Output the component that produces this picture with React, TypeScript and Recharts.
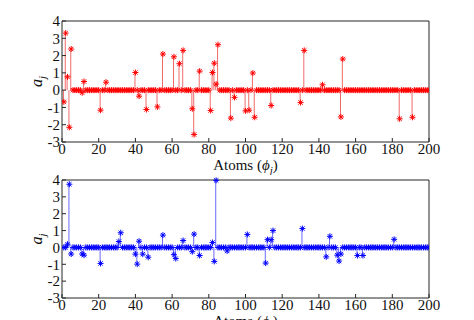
import React from "react";
import { ComposedChart, Bar, Scatter, XAxis, YAxis } from "recharts";

// Atom indices (categories) 1..200
const atomIndex: number[] = Array.from({ length: 200 }, (_, i) => i + 1);

// Nonzero coefficients (all other atoms are 0)
const redAtoms = [1, 2, 3, 4, 5, 11, 12, 21, 24, 40, 42, 46, 52, 55, 61, 64, 66, 71, 72, 75, 81, 82, 83, 84, 85, 92, 94, 100, 102, 104, 105, 114, 130, 132, 142, 152, 153, 184, 191];
const redValues = [-0.68, 3.3, 0.77, -2.15, 2.38, -0.15, 0.5, -1.16, 0.46, 1.02, -0.35, -1.12, -0.97, 2.09, 1.93, 1.53, 2.3, -1.08, -2.57, 1.1, -1.18, 1.02, 1.56, 0.35, 2.63, -1.62, -0.42, -1.2, -1.16, 0.99, -1.57, -0.89, -0.72, 2.3, 0.31, -1.55, 1.8, -1.66, -1.57];

const blueAtoms = [3, 4, 5, 11, 12, 21, 31, 32, 40, 41, 42, 44, 47, 55, 61, 62, 66, 71, 72, 75, 82, 83, 84, 90, 101, 111, 112, 114, 115, 131, 144, 146, 150, 151, 152, 161, 164, 181];
const blueValues = [0.19, 3.75, -0.39, -0.39, -0.46, -0.95, 0.35, 0.87, -0.4, -0.99, 0.37, -0.4, -0.58, 0.73, -0.43, -0.66, 0.41, -0.25, 0.79, -0.48, 0.29, -0.83, 3.98, -0.21, 0.77, -0.93, 0.46, 0.46, 1.0, 1.12, -0.56, 0.66, -0.46, -0.81, -0.39, -0.48, -0.48, 0.48];

const xTicks = [0, 20, 40, 60, 80, 100, 120, 140, 160, 180, 200];
const yTicks = [-3, -2, -1, 0, 1, 2, 3, 4];

function buildTable(atoms: number[], values: number[]) {
  return atomIndex.map((a) => {
    const k = atoms.indexOf(a);
    return { x: a, y: k >= 0 ? values[k] : 0 };
  });
}

const redData = buildTable(redAtoms, redValues);
const blueData = buildTable(blueAtoms, blueValues);

const FONT = "'Liberation Serif', 'DejaVu Serif', serif";
const AXIS = "#262626";

const makeAsterisk = (color: string) => (props: any) => {
  const { cx, cy } = props;
  if (cx == null || cy == null) return <g />;
  const r = 3;
  const d = r * 0.72;
  return (
    <g stroke={color} strokeWidth={1}>
      <line x1={cx - r} y1={cy} x2={cx + r} y2={cy} />
      <line x1={cx} y1={cy - r} x2={cx} y2={cy + r} />
      <line x1={cx - d} y1={cy - d} x2={cx + d} y2={cy + d} />
      <line x1={cx - d} y1={cy + d} x2={cx + d} y2={cy - d} />
    </g>
  );
};

const XLabel = (props: any) => {
  const vb = props.viewBox || {};
  const cx = vb.x + vb.width / 2;
  return (
    <text x={cx} y={vb.y + 28} textAnchor="middle" fontFamily={FONT} fontSize={15} fill="#111">
      Atoms (<tspan fontStyle="italic">ϕ</tspan>
      <tspan fontStyle="italic" fontSize={11} dy={4}>j</tspan>
      <tspan dy={-4}>)</tspan>
    </text>
  );
};

const YLabel = (props: any) => {
  const vb = props.viewBox || {};
  const x = 42;
  const y = vb.y + vb.height / 2;
  return (
    <text x={x} y={y} transform={`rotate(-90, ${x}, ${y})`} textAnchor="middle" fontFamily={FONT} fontSize={16} fill="#111">
      <tspan fontStyle="italic">a</tspan>
      <tspan fontStyle="italic" fontSize={11} dy={4}>j</tspan>
    </text>
  );
};

function StemPlot(props: { data: any[]; stem: string; marker: string; marginTop: number; xAxisHeight: number; height: number }) {
  const { data, stem, marker, marginTop, xAxisHeight, height } = props;
  return (
    <ComposedChart
      width={474}
      height={height}
      data={data}
      margin={{ top: marginTop, right: 44, bottom: 0, left: 0 }}
    >
      <XAxis
        xAxisId="b"
        dataKey="x"
        type="number"
        domain={[0, 200]}
        ticks={xTicks}
        interval={0}
        allowDataOverflow
        height={xAxisHeight}
        tickSize={-4}
        tickMargin={5}
        stroke={AXIS}
        tick={{ fill: "#111", fontFamily: FONT, fontSize: 15 }}
        label={<XLabel />}
      />
      <XAxis
        xAxisId="t"
        orientation="top"
        dataKey="x"
        type="number"
        domain={[0, 200]}
        ticks={xTicks}
        interval={0}
        height={1}
        tickSize={-4}
        stroke={AXIS}
        tick={false}
      />
      <YAxis
        yAxisId="l"
        type="number"
        domain={[-3, 4]}
        ticks={yTicks}
        interval={0}
        width={62}
        tickSize={-4}
        tickMargin={6}
        stroke={AXIS}
        tick={{ fill: "#111", fontFamily: FONT, fontSize: 15 }}
        label={<YLabel />}
      />
      <YAxis
        yAxisId="r"
        orientation="right"
        type="number"
        domain={[-3, 4]}
        ticks={yTicks}
        interval={0}
        width={1}
        tickSize={-4}
        stroke={AXIS}
        tick={false}
      />
      <Bar xAxisId="b" yAxisId="l" dataKey="y" fill={stem} barSize={1} isAnimationActive={false} />
      <Scatter xAxisId="b" yAxisId="l" dataKey="y" shape={makeAsterisk(marker)} isAnimationActive={false} />
    </ComposedChart>
  );
}

export default function App() {
  return (
    <div style={{ position: "absolute", left: 0, top: 0, width: 474, height: 320, overflow: "hidden", background: "#fff" }}>
      <div style={{ position: "absolute", left: 0, top: 0 }}>
        <StemPlot data={redData} stem="#f06a6a" marker="#ff0000" marginTop={20} xAxisHeight={33} height={175} />
      </div>
      <div style={{ position: "absolute", left: 0, top: 160 }}>
        <StemPlot data={blueData} stem="#6a6aff" marker="#0000ff" marginTop={19} xAxisHeight={37} height={175} />
      </div>
    </div>
  );
}
